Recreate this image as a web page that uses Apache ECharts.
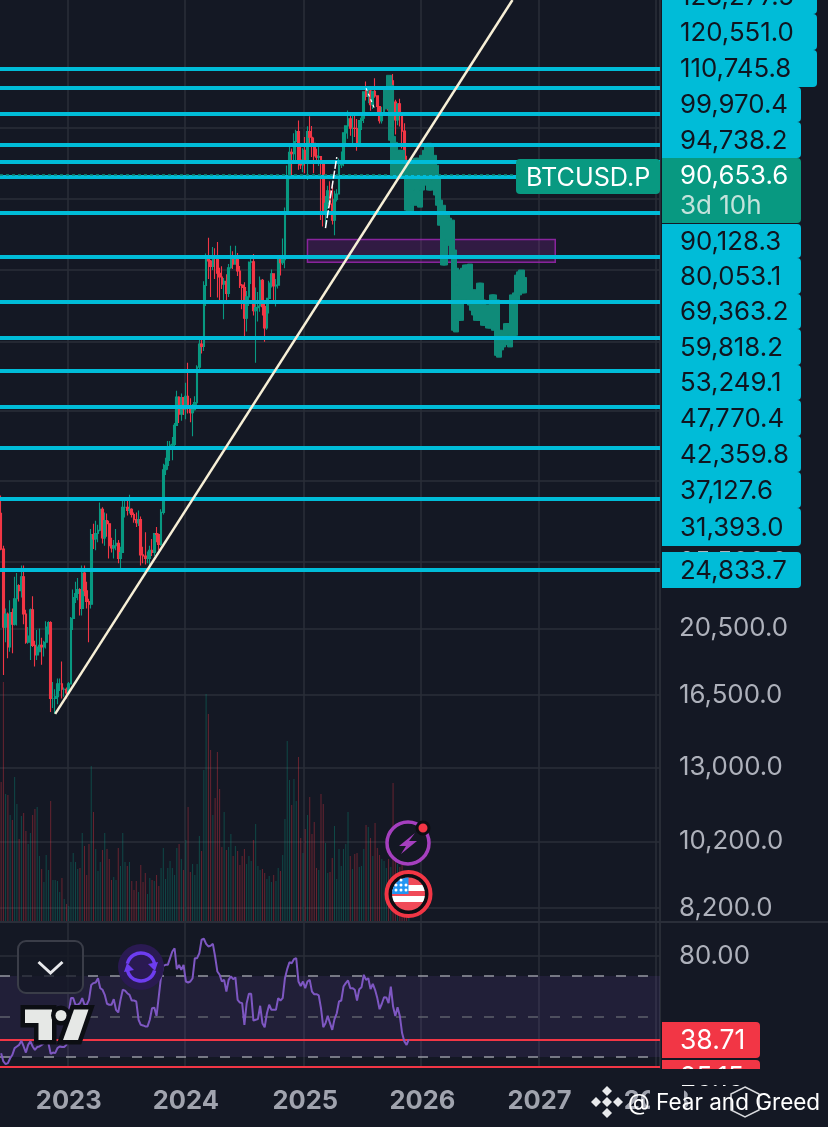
<!DOCTYPE html>
<html><head><meta charset="utf-8"><title>BTCUSD.P</title>
<style>html,body{margin:0;padding:0;background:#141824}#c{width:828px;height:1127px}</style>
<script src="https://cdn.jsdelivr.net/npm/echarts@6/dist/echarts.min.js"></script></head>
<body><div id="c"></div><script>
// weekly candles, thousands USD: [open, close, low, high]; first week 2022-06-06
const candles2022=[[29.9,26.6,26.5,31.7],[26.6,20.6,17.6,26.9],[20.6,21.5,19.6,21.9],[21.5,19.3,18.6,21.6],[19.3,21.6,19.0,22.5],[21.6,20.8,18.9,21.9],[20.8,22.6,20.7,24.3],[22.6,23.6,20.7,24.6],[23.6,23.2,22.4,23.7],[23.2,24.3,22.7,25.2],[24.3,21.5,20.8,25.2],[21.5,19.6,19.5,21.8],[19.6,20.0,19.5,20.6],[20.0,21.8,18.5,21.9],[21.8,19.4,19.3,22.8],[19.4,18.8,18.1,19.7],[18.8,19.3,18.5,20.4],[19.0,19.4,19.0,20.5],[19.4,19.3,18.2,19.9],[19.3,19.6,18.7,19.7],[19.6,20.6,19.2,21.0],[20.6,20.9,20.1,21.0],[20.9,16.3,15.6,21.0],[16.3,16.3,15.8,17.2],[16.3,16.4,15.5,16.8],[16.4,17.1,16.0,17.4],[17.1,17.1,16.7,17.4],[17.1,16.8,16.3,18.4],[16.8,16.8,16.4,16.9],[16.8,16.6,16.3,16.9]];
const candles2023=[[16.6,17.1,16.5,17.2],[17.1,21.2,17.1,21.3],[21.2,22.7,20.4,23.3],[22.7,23.0,22.3,23.9],[23.0,23.3,22.5,24.2],[23.3,21.9,21.4,23.4],[21.9,24.6,21.4,25.2],[24.6,23.2,22.8,25.2],[23.2,22.4,21.9,23.9],[22.4,22.2,19.6,22.6],[22.2,27.9,21.9,28.4],[27.9,27.5,26.6,28.9],[27.5,28.0,26.5,29.2],[28.0,28.3,27.2,28.8],[28.3,30.3,28.2,31.0],[30.3,27.6,27.1,30.5],[27.6,29.2,26.9,30.0],[29.2,28.9,27.7,29.9],[28.9,26.9,25.8,29.2],[26.9,26.7,26.3,27.6],[26.7,26.9,25.8,27.4],[26.9,27.1,26.5,28.4],[27.1,25.8,25.4,27.4],[25.8,26.3,24.8,26.8],[26.3,30.5,26.3,31.4],[30.5,30.5,29.5,31.3],[30.5,30.2,29.7,31.5],[30.2,30.3,29.9,31.8],[30.3,29.8,29.5,30.4],[29.8,29.3,29.0,30.0],[29.3,29.0,28.6,30.0],[29.0,29.3,28.7,30.2],[29.3,26.1,25.2,29.6],[26.1,26.0,25.4,26.8],[26.0,25.8,25.3,28.1],[25.8,25.8,25.4,26.4],[25.8,26.5,24.9,26.9],[26.5,26.3,26.0,27.5],[26.3,28.0,26.0,28.0],[28.0,27.9,27.2,28.6],[27.9,27.0,26.5,28.0],[27.0,30.0,26.9,30.3],[30.0,34.5,29.8,35.2],[34.5,35.0,33.9,35.9],[35.0,37.1,34.5,37.9],[37.1,37.4,35.5,37.9],[37.4,37.5,35.6,38.4],[37.5,39.9,37.2,40.2],[39.9,43.8,39.9,44.7],[43.8,41.4,40.2,43.9],[41.4,43.7,40.5,44.3],[43.7,42.1,41.3,43.8]];
const candles2024=[[42.1,43.9,40.7,45.9],[43.9,42.5,41.5,49.0],[42.5,41.6,40.3,43.6],[41.6,42.0,38.5,42.8],[42.0,43.0,41.9,43.9],[43.0,48.3,42.3,48.6],[48.3,52.1,47.6,52.8],[52.1,51.7,50.5,52.9],[51.7,63.1,50.9,64.0],[63.1,68.9,59.0,70.1],[68.9,68.4,64.5,73.8],[68.4,67.2,60.8,68.6],[67.2,69.6,66.4,71.6],[69.6,69.4,64.5,71.3],[69.4,65.7,60.7,72.8],[65.7,64.9,59.6,66.9],[64.9,63.4,62.4,67.2],[63.4,64.0,56.5,64.7],[64.0,61.5,60.2,65.5],[61.5,66.9,60.8,67.7],[66.9,69.0,66.7,71.9],[69.0,67.7,66.6,70.6],[67.7,69.6,67.6,71.9],[69.6,66.2,65.1,70.2],[66.2,63.2,62.6,67.3],[63.2,62.7,58.4,63.4],[62.7,56.7,53.5,63.8],[56.7,60.8,54.3,62.0],[60.8,68.1,59.0,68.3],[68.1,68.2,63.4,69.4],[68.2,58.1,57.2,70.0],[58.1,58.7,49.0,62.7],[58.7,59.0,56.1,61.8],[59.0,64.2,57.9,65.0],[64.2,58.9,57.2,64.5],[58.9,54.9,52.5,59.8],[54.9,60.5,54.6,60.6],[60.5,63.6,57.6,64.1],[63.6,65.6,62.7,66.5],[65.6,63.0,59.9,65.6],[63.0,63.2,58.9,64.5],[63.2,69.0,62.5,69.5],[69.0,68.0,65.2,69.5],[68.0,68.7,67.5,73.6],[68.7,80.4,66.8,81.5],[80.4,90.5,80.2,93.5],[90.5,97.7,89.4,99.6],[97.7,97.2,90.7,98.9],[97.2,101.2,94.0,104.0],[101.2,104.5,94.2,105.2],[104.5,95.2,92.2,108.4],[95.2,93.7,92.5,99.9],[93.7,98.3,91.5,99.0]];
const candles2025=[[98.3,94.5,91.2,102.7],[94.5,104.5,89.2,106.4],[104.5,102.6,99.5,109.9],[102.6,100.6,96.2,106.5],[100.6,96.5,91.2,102.5],[96.5,96.1,94.1,98.8],[96.1,96.3,93.4,99.5],[96.3,94.3,78.2,96.5],[94.3,80.7,76.6,95.0],[80.7,82.6,76.6,84.6],[82.6,86.1,81.1,87.5],[86.1,82.4,81.6,88.8],[82.4,78.2,77.1,88.5],[78.2,83.7,74.4,86.1],[83.7,85.2,83.1,86.5],[85.2,93.7,85.1,95.7],[93.7,94.3,92.8,97.9],[94.3,104.1,93.3,104.3],[104.1,106.5,100.7,106.7],[106.5,109.0,102.1,112.0],[109.0,105.7,103.1,110.7],[105.7,105.7,100.4,110.4],[105.7,105.6,102.7,110.3],[105.6,100.9,98.2,108.9],[100.9,108.4,100.9,108.5],[108.4,109.2,105.1,110.5],[109.2,119.1,107.5,119.2],[119.1,117.3,115.7,123.2],[117.3,119.4,114.7,120.2],[119.4,114.2,111.9,120.0],[114.2,119.3,112.6,119.4],[119.3,117.5,116.8,124.5],[117.5,113.5,110.6,117.6],[113.5,108.3,107.3,113.5],[108.3,111.1,107.3,113.4],[111.1,115.3,110.6,116.8],[115.3,115.3,114.4,117.9],[115.3,112.2,108.6,115.3],[112.2,123.5,111.6,125.7],[123.5,115.2,102.0,126.2],[115.2,108.6,103.5,116.0],[108.6,114.5,106.7,114.6],[114.5,110.5,106.3,116.4],[110.5,104.7,98.9,110.8],[104.7,94.2,93.0,107.4],[94.2,86.8,80.6,96.6],[86.8,90.65,85.3,93.0]];
// projected pattern, thousands USD, from the 171st week on
const ghostHigh=[120.4,125.7,121.6,102.9,100.9,98.3,98.3,98.3,95.2,93.6,93.6,95.2,95.2,95.8,95.8,95.2,96.7,98.3,99.6,100.6,100,96.7,93.6,90.6,83.5,82.1,79.5,79.5,78.7,78.2,70.9,66.8,63.2,66.4,66.8,67.5,67.5,67.7,62.2,62.2,62.2,63.6,63.6,60.2,59.2,59.2,59.2,61.2,61.2,60.2,54.5,53.6,54.5,55.7,55.7,53.6,61.2,61.6,65.3,66.0,66.4,64.8];
const ghostLow=[112.6,113.2,101.6,90.0,90.0,90.6,90.6,90.6,90.0,80.8,80.3,80.3,82.1,86.3,82.1,81.6,86.3,89.1,87.7,86.3,86.3,89.1,84.9,82.1,76.9,67.5,67.5,73.2,72.0,69.7,54.5,54.2,56.3,56.3,60.2,60.2,60.2,59.2,58.2,57.3,56.3,56.3,56.3,55.4,55.4,54.9,54.9,54.9,54.5,50.2,49.9,51.1,51.6,52.0,52.0,51.6,53.1,53.6,60.2,61.2,61.6,61.6];
// volume, arbitrary units
const volume=[140,240,128,127,107,102,145,118,83,106,109,91,78,89,107,113,115,66,53,40,67,52,121,42,42,41,30,44,23,18,
16,60,69,60,53,54,89,76,47,78,156,110,73,51,60,72,89,73,63,42,45,42,74,56,89,60,56,60,41,32,
41,30,57,40,49,28,44,42,41,47,36,54,74,43,54,61,54,47,74,78,63,52,82,115,50,58,47,58,86,71,
152,228,208,172,107,124,170,133,75,110,72,75,88,66,76,71,57,66,73,58,66,61,82,98,56,52,53,49,43,46,
40,47,41,54,51,67,103,181,142,117,143,121,165,84,69,93,107,125,88,100,54,52,128,118,79,49,50,64,96,43,
73,56,73,78,110,66,53,68,69,55,56,73,97,95,84,66,99,74,67,63,61,54,63,55,139,65,58,55,60,50,40,25];
const rsi=[31.9,27.8,26.5,27.0,29.4,31.1,34.4,35.2,36.0,38.0,35.2,32.2,36.0,37.7,35.2,33.5,34.9,35.2,36.0,36.8,40.1,36.8,31.6,32.2,31.9,34.4,35.2,34.9,34.9,36.0,
51.6,59.1,59.1,55.8,55.8,56.6,59.1,55.8,55.8,58.2,65.6,66.5,66.8,68.9,64.0,63.2,60.7,56.3,55.8,55.8,58.6,53.3,52.0,58.2,63.2,62.8,61.5,60.7,57.9,57.9,
57.4,48.4,45.9,45.6,45.1,45.1,48.4,54.1,54.4,50.3,59.9,69.8,75.0,75.5,75.5,78.8,82.1,83.7,73.4,75.5,73.0,75.5,67.3,66.8,67.3,68.9,78.8,78.8,81.3,87.9,
88.4,85.9,84.6,84.9,85.9,79.6,72.2,70.6,67.3,68.1,62.3,68.1,69.8,68.4,69.3,58.2,56.9,56.6,45.9,56.6,61.2,61.2,48.0,48.4,48.7,55.3,46.7,44.7,51.6,55.8,
53.3,53.3,53.3,59.1,57.9,59.1,68.9,73.4,76.8,76.3,78.3,78.8,67.3,65.1,67.3,64.0,67.3,68.1,62.3,61.0,61.0,60.4,54.1,44.7,46.7,50.3,46.7,43.4,48.7,51.6,
57.4,57.9,64.8,66.5,67.8,64.0,64.0,63.2,57.9,63.5,64.5,70.6,68.1,68.9,63.5,66.1,63.2,59.1,53.6,56.3,59.5,59.4,56.6,64.8,54.9,50.3,54.6,50.3,41.8,37.7,36.0,38.71];
const levels=[128277.5,120551.0,110745.8,99970.4,94738.2,90128.3,80053.1,69363.2,59818.2,53249.1,47770.4,42359.8,37127.6,31393.0,24833.7];
const lastPrice=90653.6;
const priceTicks=[8200,10200,13000,16500,20500,25500,33300,41800,52500,66500,84000,106000];
const rsiTicks=[80];
const rsiLevels=[70,50,30];
const rsiLast=38.71, rsiBase=25.15;
const trendFrom=[24,15500], trendTo=[227,160900];
const zoneWeeks=[136,246], zonePrices=[73400,68100];
const whiteA=[[144,76.2],[149,96.1]], whiteB=[[162,120.5],[166,112.2]];

const BG='#141824',UP='#089981',DN='#f23645',CY='#00bcd8',GRID='#2a2e39',AX='#aeb1bb',GHOST='#0f8b79';
const FONT='Inter, "Noto Sans", sans-serif';
const cats=[];for(let i=0;i<293;i++){const d=new Date(Date.UTC(2022,5,6+7*i));cats.push(d.toISOString().slice(0,10));}
const yearIdx=new Set();cats.forEach((c,i)=>{if(i&&c.slice(0,4)!==cats[i-1].slice(0,4))yearIdx.add(i);});
const isYear=i=>yearIdx.has(i);
const candles=[...candles2022,...candles2023,...candles2024,...candles2025];
const kUSD=v=>v*1000;
const candleData=candles.map(r=>r.map(kUSD));
const pad=n=>Array.from({length:n},()=>['-','-','-','-']);
const ghostData=pad(171).concat(ghostHigh.map((h,i)=>[kUSD(ghostLow[i]),kUSD(h),kUSD(ghostLow[i]),kUSD(h)]));
const volData=volume.map((v,i)=>{const c=candles[i]||[0,0];return{value:v,itemStyle:{color:c[1]>=c[0]?'rgba(8,153,129,.38)':'rgba(242,54,69,.38)'}};});
const seg=a=>a.map(p=>[cats[p[0]],kUSD(p[1])]);
const xBase={type:'category',data:cats,boundaryGap:true,axisLine:{show:false},axisTick:{show:false,alignWithLabel:true,interval:(i)=>isYear(i)},
  splitLine:{show:true,interval:(i)=>isYear(i),lineStyle:{color:GRID,width:1.5}}};
const fmt2=v=>v.toLocaleString('en-US',{minimumFractionDigits:1,maximumFractionDigits:1});

const option={backgroundColor:BG,animation:false,
 grid:[{left:-0.7,top:0,width:660.7,height:922},{left:-0.7,top:922,width:660.7,height:146}],
 xAxis:[{...xBase,gridIndex:0,axisLabel:{show:false}},
  {...xBase,gridIndex:1,axisLabel:{show:true,interval:(i)=>isYear(i),formatter:v=>v.slice(0,4),color:'#a0a3ae',fontFamily:FONT,fontWeight:700,fontSize:25.5,margin:20}}],
 yAxis:[
  {type:'log',logBase:10,gridIndex:0,position:'right',min:7835,max:160900,scale:true,
   axisLine:{show:true,lineStyle:{color:GRID,width:1.5}},
   axisTick:{show:false,customValues:priceTicks},
   axisLabel:{show:true,customValues:priceTicks,formatter:fmt2,color:AX,fontFamily:FONT,fontSize:25.8,margin:19,align:'left'},
   splitLine:{show:true,lineStyle:{color:GRID,width:1.5}}},
  {type:'value',gridIndex:0,min:0,max:922,show:false,splitLine:{show:false}},
  {type:'value',gridIndex:1,position:'right',min:24.57,max:96.67,
   axisLine:{show:true,lineStyle:{color:GRID,width:1.5}},
   axisTick:{show:false,customValues:rsiTicks},
   axisLabel:{show:true,customValues:rsiTicks,formatter:v=>v.toFixed(2),color:AX,fontFamily:FONT,fontSize:25.8,margin:19,align:'left'},
   splitLine:{show:true,lineStyle:{color:GRID,width:1.5}}}
 ],
 series:[
  {name:'Volume',type:'bar',xAxisIndex:0,yAxisIndex:1,data:volData,barWidth:1,z:1,silent:true},
  {name:'Zone',type:'line',xAxisIndex:0,yAxisIndex:0,data:[],z:1,silent:true,
   markArea:{silent:true,itemStyle:{color:'rgba(156,39,176,.22)',borderColor:'rgba(156,39,176,.85)',borderWidth:1.5},
    data:[[{xAxis:cats[zoneWeeks[0]],yAxis:zonePrices[0]},{xAxis:cats[zoneWeeks[1]],yAxis:zonePrices[1]}]]}},
  {name:'BTCUSD.P',type:'candlestick',xAxisIndex:0,yAxisIndex:0,data:candleData,barWidth:2.2,z:3,
   itemStyle:{color:UP,color0:DN,borderColor:UP,borderColor0:DN,borderWidth:1.1}},
  {name:'Projection',type:'candlestick',xAxisIndex:0,yAxisIndex:0,data:ghostData,barWidth:5.6,z:4,
   itemStyle:{color:GHOST,color0:GHOST,borderColor:GHOST,borderColor0:GHOST,borderWidth:1}},
  {name:'Levels',type:'line',xAxisIndex:0,yAxisIndex:0,data:[],z:6,silent:true,
   markLine:{silent:true,symbol:'none',label:{show:false},lineStyle:{color:CY,width:3.8,type:'solid'},animation:false,
    data:levels.map(v=>({yAxis:v})).concat([{yAxis:lastPrice,lineStyle:{color:GHOST,width:1.6,type:[3,3]}}])}},
  {name:'Trend',type:'line',xAxisIndex:0,yAxisIndex:0,z:7,symbol:'none',silent:true,
   data:[[cats[trendFrom[0]],trendFrom[1]],[cats[trendTo[0]],trendTo[1]]],lineStyle:{color:'#f7efd6',width:2.5}},
  {name:'DrawA',type:'line',xAxisIndex:0,yAxisIndex:0,z:7,symbol:'none',silent:true,data:seg(whiteA),lineStyle:{color:'#fff',width:1.5,type:[8,2]}},
  {name:'DrawB',type:'line',xAxisIndex:0,yAxisIndex:0,z:7,symbol:'none',silent:true,data:seg(whiteB),lineStyle:{color:'#fff',width:1.2,type:[3,3]}},
  {name:'RSI',type:'line',xAxisIndex:1,yAxisIndex:2,data:rsi,symbol:'none',z:5,silent:true,lineStyle:{color:'#7e57c2',width:2},
   markArea:{silent:true,itemStyle:{color:'rgba(126,87,194,.13)'},data:[[{yAxis:rsiLevels[0]},{yAxis:rsiLevels[2]}]]},
   markLine:{silent:true,symbol:'none',label:{show:false},data:[
    {yAxis:rsiLevels[0],lineStyle:{color:'#9598a1',type:[10,12],width:1.6}},
    {yAxis:rsiLevels[1],lineStyle:{color:'#5d606b',type:[10,12],width:1.6}},
    {yAxis:rsiLevels[2],lineStyle:{color:'#9598a1',type:[10,12],width:1.6}},
    {yAxis:rsiLast,lineStyle:{color:DN,type:'solid',width:2}},
    {yAxis:rsiBase,lineStyle:{color:DN,type:'solid',width:2.2}}]}}
 ]
};
// ---- right-hand price tags and overlays
const Z=100;
const g=[];
const rect=(x,y,w,h,fill,r,z)=>g.push({type:'rect',z:z||Z,silent:true,shape:{x,y,width:w,height:h,r:r||0},style:{fill}});
const txt=(s,x,y,fill,size,extra)=>g.push({type:'text',z:(extra&&extra.z)||Z+2,silent:true,x,y:y+1.5,style:{text:s,fill,font:((extra&&extra.w)||'400')+' '+size+'px '+FONT,textAlign:(extra&&extra.a)||'left',textVerticalAlign:'middle'}});
const tagFmt=fmt2;
const rows=[[levels[0],-21,14,155],[levels[1],14,50,155],[levels[2],50,87,155],[levels[3],87,122,139],[levels[4],122,158,139],
 [levels[5],224,258,139],[levels[6],258,294,139],[levels[7],294,329,139],[levels[8],329,365,139],[levels[9],365,400,139],
 [levels[10],400,436,139],[levels[11],436,472,139],[levels[12],472,508,139],[levels[13],508,546,139],[levels[14],552,588,139]];
rows.slice().reverse().forEach(r=>{rect(662,r[1],r[3],r[2]-r[1],CY,[0,4,4,0]);});
rows.forEach(r=>txt(tagFmt(r[0]),680,(r[1]+r[2])/2-0.5,'#10141f',25.8));
rect(662,158,139,65,UP,[0,4,4,0]);
txt(tagFmt(lastPrice),680,175,'#ffffff',25.8);
txt('3d 10h',680,205,'#c3e3dc',26);
rect(516,159,144,35,UP,4);
txt('BTCUSD.P',526,177,'#ffffff',25.2);
rect(662,1022,98,36,DN,[0,4,4,0]);
txt(rsiLast.toFixed(2),680,1040,'#ffffff',26.5);
rect(662,1060,98,20,DN,[0,4,4,0]);
txt(rsiBase.toFixed(2),680,1077,'#ffffff',26.5);
rect(660,1069,110,16,BG,0,Z+3);
rect(0,921,828,2,GRID,0,Z-1);
// chevron button
g.push({type:'rect',z:Z,silent:true,shape:{x:18,y:941,width:65,height:52,r:8},style:{fill:'rgba(20,24,36,.75)',stroke:'#3a3d48',lineWidth:2}});
g.push({type:'polyline',z:Z+1,silent:true,shape:{points:[[38.5,962],[50.5,973],[62.5,962]]},style:{stroke:'#e8e9ec',lineWidth:3,fill:null}});
// logo
const logo={fill:'#e6e8e6',stroke:'#0c0e13',lineWidth:9,lineJoin:'miter',strokeFirst:true};
g.push({type:'polygon',z:Z,silent:true,shape:{points:[[25,1009.5],[52,1009.5],[52,1040],[38.5,1040],[38.5,1023],[25,1023]]},style:logo});
g.push({type:'polygon',z:Z,silent:true,shape:{points:[[74,1009.5],[88.5,1009.5],[78,1040],[63,1040]]},style:logo});
g.push({type:'circle',z:Z,silent:true,shape:{cx:61,cy:1015.5,r:5.5},style:logo});
// refresh icon
g.push({type:'circle',z:Z,silent:true,shape:{cx:141,cy:967,r:23},style:{fill:'#2a1a52'}});
g.push({type:'arc',z:Z+1,silent:true,shape:{cx:141,cy:967,r:14,startAngle:-2.9,endAngle:-0.25},style:{stroke:'#6d3df0',lineWidth:3.5,fill:null}});
g.push({type:'arc',z:Z+1,silent:true,shape:{cx:141,cy:967,r:14,startAngle:0.25,endAngle:2.9},style:{stroke:'#6d3df0',lineWidth:3.5,fill:null}});
g.push({type:'polygon',z:Z+1,silent:true,shape:{points:[[148,964],[158,962],[155,971]]},style:{fill:'#6d3df0'}});
g.push({type:'polygon',z:Z+1,silent:true,shape:{points:[[134,970],[124,972],[127,963]]},style:{fill:'#6d3df0'}});
// lightning badge
g.push({type:'circle',z:Z,silent:true,shape:{cx:408,cy:843,r:21},style:{fill:'#141824',stroke:'#a53fbf',lineWidth:3.5}});
g.push({type:'polygon',z:Z+1,silent:true,shape:{points:[[415,833],[399,846],[406,846],[401,854],[417,841],[409,841]]},style:{fill:'#a53fbf'}});
g.push({type:'circle',z:Z+1,silent:true,shape:{cx:423,cy:828,r:6},style:{fill:'#f23645',stroke:'#0c0e13',lineWidth:3}});
// flag badge
g.push({type:'circle',z:Z,silent:true,shape:{cx:408.5,cy:894,r:22},style:{fill:'#0c0e13',stroke:'#f23645',lineWidth:4}});
g.push({type:'circle',z:Z+1,silent:true,shape:{cx:408.5,cy:894,r:16.5},style:{fill:{type:'linear',x:0,y:0,x2:0,y2:1,colorStops:[
 {offset:0,color:'#f04a58'},{offset:.22,color:'#f04a58'},{offset:.22,color:'#fff'},{offset:.4,color:'#fff'},{offset:.4,color:'#f04a58'},{offset:.55,color:'#f04a58'},{offset:.55,color:'#fff'},{offset:.75,color:'#fff'},{offset:.75,color:'#f04a58'},{offset:1,color:'#f04a58'}]}}});
g.push({type:'sector',z:Z+2,silent:true,shape:{cx:408.5,cy:894,r:16.5,r0:0,startAngle:Math.PI,endAngle:Math.PI*1.5},style:{fill:'#2196f3'}});
[[396,885],[401,885],[406,885],[396,890],[401,890],[406,890],[401,880]].forEach(p=>g.push({type:'circle',z:Z+3,silent:true,shape:{cx:p[0],cy:p[1],r:1.5},style:{fill:'#fff'}}));
// watermark
[[607,1091],[607,1113],[596,1102],[618,1102],[607,1102]].forEach(p=>g.push({type:'polygon',z:Z+4,silent:true,shape:{points:[[p[0]-5,p[1]],[p[0],p[1]-5],[p[0]+5,p[1]],[p[0],p[1]+5]]},style:{fill:'#e8e9ec'}}));
g.push({type:'polygon',z:Z+4,silent:true,shape:{points:[[745,1087],[759,1094],[759,1110],[745,1117],[731,1110],[731,1094]]},style:{fill:null,stroke:'#d8d9dd',lineWidth:1.5}});
g.push({type:'rect',z:Z+3,silent:true,shape:{x:650,y:1086,width:34,height:28},style:{fill:BG}});
txt('@ Fear and Greed',628,1102,'#ffffff',22.5,{z:Z+5});
option.graphic={elements:g};
echarts.init(document.getElementById('c'),null,{renderer:'canvas'}).setOption(option);
</script></body></html>
